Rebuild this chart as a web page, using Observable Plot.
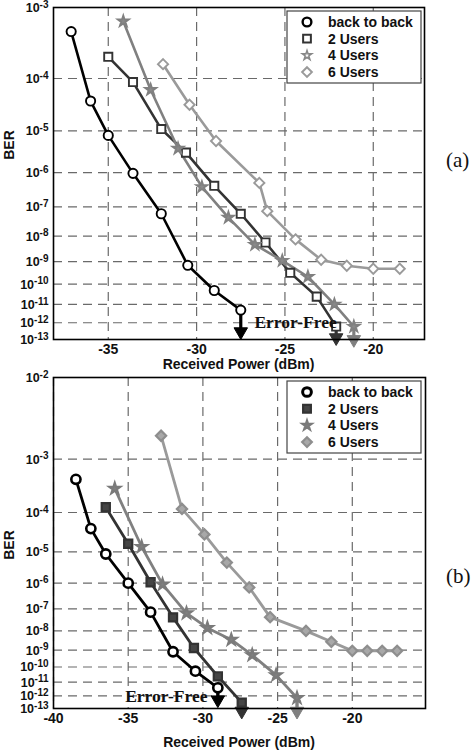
<!DOCTYPE html>
<html><head><meta charset="utf-8">
<script src="https://cdn.jsdelivr.net/npm/d3@7"></script>
<script src="https://cdn.jsdelivr.net/npm/@observablehq/plot@0.6"></script>
<style>
body{margin:0;background:#fff;}
#wrap{position:relative;width:474px;height:750px;overflow:hidden;background:#fff;}
#wrap svg{position:absolute;left:0;}
</style></head><body><div id="wrap"></div>
<script>
// ---------- data ----------
const series = ["back to back", "2 Users", "4 Users", "6 Users"];

// panel (a)
const aB2B_x = [-37.1, -36, -35, -33.6, -32, -30.5, -29, -27.5];
const aB2B_ber = [5e-4, 4e-5, 8e-6, 9.5e-7, 6e-8, 7e-10, 5e-11, 5e-12];
const a2U_x = [-35, -33.6, -32, -30.6, -29, -27.5, -26.1, -24.7, -23.2, -22.1];
const a2U_ber = [2.2e-4, 8.7e-5, 1.1e-5, 3.2e-6, 4.3e-7, 6e-8, 5.8e-9, 3.3e-10, 2.5e-11, 6e-13];
const a4U_x = [-34.15, -32.6, -31.05, -29.7, -28.2, -26.7, -25.15, -23.7, -22.2, -21.1];
const a4U_ber = [6.8e-4, 6.4e-5, 4e-6, 4e-7, 4.5e-8, 4.8e-9, 1.1e-9, 2.2e-10, 1e-11, 6e-13];
const a6U_x = [-31.9, -30.4, -28.9, -26.45, -26, -24.4, -22.95, -21.5, -20, -18.5];
const a6U_ber = [1.7e-4, 3.4e-5, 6e-6, 5.2e-7, 7.3e-8, 7.6e-9, 1.2e-9, 6.7e-10, 5e-10, 5e-10];
const aArrowSeries = [0, 1, 2];
const aArrowEnd = [3e-13, 1.3e-13, 1e-13];
const aXTicks = [-35, -30, -25, -20];
const aExps = [-3, -4, -5, -6, -7, -8, -9, -10, -11, -12, -13];
const aErrorFree = {x: [-24.4], ber: [1e-12], text: ["Error-Free"]};

// panel (b)
const bB2B_x = [-38.5, -37.5, -36.5, -35, -33.5, -32, -30.5, -29];
const bB2B_ber = [4.6e-4, 4.2e-5, 8.7e-6, 1e-6, 7.3e-8, 8e-10, 5.4e-11, 4e-12];
const b2U_x = [-36.5, -35, -33.5, -32, -30.6, -29, -27.4];
const b2U_ber = [1.3e-4, 1.7e-5, 1.07e-6, 4.3e-8, 1.3e-9, 2.5e-11, 3e-13];
const b4U_x = [-35.9, -34.1, -32.7, -31.1, -29.7, -28.1, -26.7, -25.1, -23.7];
const b4U_ber = [3.1e-4, 1.4e-5, 9e-7, 6.6e-8, 1.4e-8, 3.6e-9, 5.2e-10, 3e-11, 7e-13];
const b6U_x = [-32.8, -31.4, -29.9, -28.4, -26.9, -25.5, -23.1, -21.4, -20, -19, -18, -17];
const b6U_ber = [2.2e-3, 1.2e-4, 3e-5, 4.8e-6, 7e-7, 4.4e-8, 1e-8, 2.8e-9, 9e-10, 9e-10, 9e-10, 9e-10];
const bArrowSeries = [0, 1, 2];
const bArrowEnd = [5e-13, 6e-14, 6e-14];
const bXTicks = [-40, -35, -30, -25, -20];
const bExps = [-2, -3, -4, -5, -6, -7, -8, -9, -10, -11, -12, -13];
const bErrorFree = {x: [-32.45], ber: [1e-12], text: ["Error-Free"]};

const panelLabels = ["(a)", "(b)"];
const xLabel = "Received Power (dBm)";
const yLabel = "BER";

// ---------- BER scale (log of Q-factor) ----------
function erfc(x) {
  const z = Math.abs(x), t = 1 / (1 + 0.5 * z);
  const r = t * Math.exp(-z * z - 1.26551223 + t * (1.00002368 + t * (0.37409196 + t * (0.09678418 + t * (-0.18628806 + t * (0.27886807 + t * (-1.13520398 + t * (1.48851587 + t * (-0.82215223 + t * 0.17087277)))))))));
  return x >= 0 ? r : 2 - r;
}
function qOf(ber) {
  let lo = 0, hi = 12;
  for (let i = 0; i < 90; i++) { const m = (lo + hi) / 2; if (0.5 * erfc(m / Math.SQRT2) > ber) lo = m; else hi = m; }
  return (lo + hi) / 2;
}
const T = b => Math.log10(qOf(b));

// ---------- styles ----------
const FONT = "'Liberation Sans', Arial, sans-serif";
const SERIF = "'Liberation Serif', 'Times New Roman', serif";
const lineColors = ["#000000", "#333333", "#808080", "#9a9a9a"];
const symbols = ["circle", "square", "star", "diamond2"];
const d3symbols = [d3.symbolCircle, d3.symbolSquare, d3.symbolStar, d3.symbolDiamond2];
const radii = [4.6, 4.6, 3.4, 4.6];

function markerStyle(i, filled) {
  let fill = "white", stroke = lineColors[i], sw = 1.9;
  if (!filled) { if (i === 2) fill = "#8a8a8a"; }
  else {
    sw = 2.2;
    if (i === 0) { fill = "white"; sw = 2.6; }
    if (i === 1) { fill = "#454545"; stroke = "#333"; }
    if (i === 2) { fill = "#808080"; stroke = "#7a7a7a"; }
    if (i === 3) { fill = "#a8a8a8"; stroke = "#8e8e8e"; }
  }
  return {fill, stroke, sw};
}

function buildPanel(cfg) {
  const {xs, bers, arrowSeries, arrowEnd, xTicks, exps, errorFree, xDomain, height, mt, mb, filled, top, label, legendTop, berY, labelY} = cfg;
  const width = 474, ml = 53, mr = width - (cfg.right);
  const marks = [];
  marks.push(Plot.gridX(xTicks, {stroke: "#6a6a6a", strokeOpacity: 1, strokeDasharray: "9,6", strokeWidth: 1.2}));
  marks.push(Plot.gridY(exps.map(e => T(10 ** e)), {stroke: "#6a6a6a", strokeOpacity: 1, strokeDasharray: "9,6", strokeWidth: 1.2}));
  const lw = filled ? 2.8 : 2.6;
  // arrows
  arrowSeries.forEach((si, k) => {
    const n = xs[si].length - 1;
    const row = [{x: xs[si][n], from: bers[si][n], to: arrowEnd[k]}];
    marks.push(Plot.ruleX(row, {x: "x", y1: d => T(d.from), y2: d => T(d.to), stroke: lineColors[si], strokeWidth: lw + 0.6}));
    marks.push(Plot.dot(row, {x: "x", y: d => T(d.to), symbol: "triangle", rotate: 180, r: 5, fill: lineColors[si], stroke: lineColors[si], strokeWidth: 1}));
  });
  // lines and markers
  series.forEach((s, i) => {
    const rows = xs[i].map((x, j) => ({series: s, x, ber: bers[i][j]}));
    marks.push(Plot.line(rows, {x: "x", y: d => T(d.ber), stroke: lineColors[i], strokeWidth: lw}));
  });
  series.forEach((s, i) => {
    const rows = xs[i].map((x, j) => ({series: s, x, ber: bers[i][j]}));
    const st = markerStyle(i, filled);
    marks.push(Plot.dot(rows, {x: "x", y: d => T(d.ber), symbol: symbols[i], r: radii[i], fill: st.fill, stroke: st.stroke, strokeWidth: st.sw}));
  });
  marks.push(Plot.text(errorFree.x.map((x, i) => ({x, ber: errorFree.ber[i], t: errorFree.text[i]})), {
    x: "x", y: d => T(d.ber), text: "t", fontFamily: SERIF, fontWeight: "bold", fontSize: 17.5, fill: "#111", textAnchor: "middle"
  }));
  marks.push(Plot.frame({stroke: "#000", strokeWidth: 1.6}));

  const svg = Plot.plot({
    width, height, marginLeft: ml, marginRight: mr, marginTop: mt, marginBottom: mb,
    style: {fontFamily: FONT, fontSize: "14px", fontWeight: "bold", color: "#111", background: "transparent", overflow: "visible"},
    x: {domain: xDomain, ticks: xTicks, tickFormat: d => String(d), tickSize: 0, tickPadding: 5, label: null},
    y: {domain: [T(10 ** exps[0]), T(10 ** exps[exps.length - 1])], range: [mt, height - mb],
        ticks: exps.map(e => T(10 ** e)), tickFormat: (d, i) => "10" + exps[i], tickSize: 0, tickPadding: 5, label: null},
    marks
  });
  const s = d3.select(svg);
  // superscripts on y tick labels
  s.selectAll('g[aria-label="y-axis tick label"] text').each(function () {
    const t = d3.select(this);
    const txt = t.text();
    const exp = txt.slice(2);
    t.text(null);
    t.append("tspan").attr("font-size", 12.5).text("10");
    t.append("tspan").attr("font-size", 10).attr("dy", "-0.42em").text(exp);
  });
  // axis labels
  s.append("text").attr("x", (ml + cfg.right) / 2).attr("y", labelY).attr("text-anchor", "middle")
    .attr("font-family", FONT).attr("font-weight", "bold").attr("font-size", 14).attr("fill", "#111").text(xLabel);
  s.append("text").attr("transform", `translate(14,${berY}) rotate(-90)`).attr("text-anchor", "middle")
    .attr("font-family", FONT).attr("font-weight", "bold").attr("font-size", 14).attr("fill", "#111").text(yLabel);
  // panel label
  s.append("text").attr("x", 446).attr("y", cfg.panelY).attr("text-anchor", "start").attr("font-family", SERIF)
    .attr("font-weight", "normal").attr("font-size", 21).attr("fill", "#111").text(label);
  // legend
  const lg = s.append("g");
  lg.append("rect").attr("x", 287).attr("y", legendTop).attr("width", 134).attr("height", 72)
    .attr("fill", "white").attr("stroke", "#444").attr("stroke-width", 1.2);
  series.forEach((name, i) => {
    const cy = legendTop + 11 + i * 16.7;
    let {fill, stroke, sw} = markerStyle(i, filled);
    if (!filled) { sw = i === 0 ? 2.4 : 2; if (i === 2) { fill = "white"; stroke = "#888"; sw = 1.6; } }
    else if (i === 0) sw = 3;
    const rr = radii[i] * (i === 2 ? 0.85 : 0.95);
    lg.append("path").attr("d", d3.symbol().type(d3symbols[i]).size(Math.PI * rr * rr)())
      .attr("transform", `translate(307,${cy})`).attr("fill", fill).attr("stroke", stroke).attr("stroke-width", sw);
    lg.append("text").attr("x", 328).attr("y", cy).attr("dy", "0.35em").attr("text-anchor", "start").attr("font-family", FONT)
      .attr("font-weight", "bold").attr("font-size", 14).attr("fill", "#111").text(name);
  });
  svg.style.top = top + "px";
  return svg;
}

const wrap = document.getElementById("wrap");
wrap.appendChild(buildPanel({
  xs: [aB2B_x, a2U_x, a4U_x, a6U_x], bers: [aB2B_ber, a2U_ber, a4U_ber, a6U_ber],
  arrowSeries: aArrowSeries, arrowEnd: aArrowEnd, xTicks: aXTicks, exps: aExps, errorFree: aErrorFree,
  xDomain: [-38.1, -17.1], right: 424, height: 372, mt: 7, mb: 33, filled: false, top: 0,
  label: panelLabels[0], legendTop: 11, berY: 145, labelY: 369, panelY: 167
}));
wrap.appendChild(buildPanel({
  xs: [bB2B_x, b2U_x, b4U_x, b6U_x], bers: [bB2B_ber, b2U_ber, b4U_ber, b6U_ber],
  arrowSeries: bArrowSeries, arrowEnd: bArrowEnd, xTicks: bXTicks, exps: bExps, errorFree: bErrorFree,
  xDomain: [-40, -15.1], right: 425, height: 378, mt: 5, mb: 42, filled: true, top: 372,
  label: panelLabels[1], legendTop: 9, berY: 173, labelY: 375, panelY: 211
}));
</script></body></html>
